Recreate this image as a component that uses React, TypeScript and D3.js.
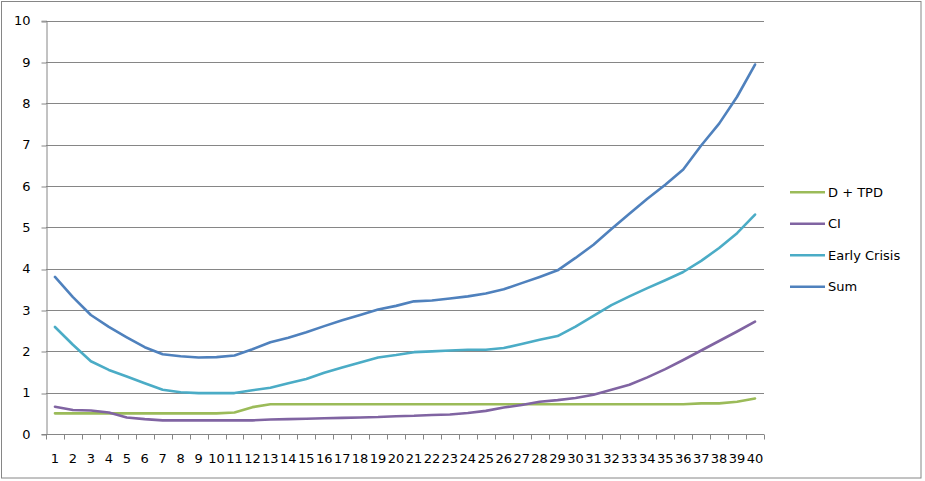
import React, { useEffect, useRef } from 'react';
import * as d3 from 'd3';

const categories = d3.range(1, 41).map(String);

const dTpd = [
  0.5, 0.5, 0.5, 0.5, 0.5, 0.5, 0.5, 0.5, 0.5, 0.5,
  0.52, 0.65, 0.72, 0.72, 0.72, 0.72, 0.72, 0.72, 0.72, 0.72,
  0.72, 0.72, 0.72, 0.72, 0.72, 0.72, 0.72, 0.72, 0.72, 0.72,
  0.72, 0.72, 0.72, 0.72, 0.72, 0.72, 0.74, 0.74, 0.78, 0.86,
];

const ci = [
  0.66, 0.58, 0.57, 0.52, 0.4, 0.36, 0.33, 0.33, 0.33, 0.33,
  0.33, 0.33, 0.35, 0.36, 0.37, 0.38, 0.39, 0.4, 0.41, 0.43,
  0.44, 0.46, 0.47, 0.51, 0.56, 0.64, 0.7, 0.78, 0.82, 0.87,
  0.95, 1.07, 1.19, 1.37, 1.57, 1.79, 2.02, 2.25, 2.48, 2.72,
];

const earlyCrisis = [
  2.59, 2.16, 1.76, 1.55, 1.39, 1.23, 1.07, 1.01, 0.99, 0.99,
  0.99, 1.06, 1.12, 1.23, 1.33, 1.48, 1.61, 1.73, 1.85, 1.91,
  1.98, 2.0, 2.02, 2.04, 2.04, 2.08, 2.18, 2.28, 2.37, 2.6,
  2.86, 3.12, 3.33, 3.53, 3.72, 3.92, 4.19, 4.5, 4.86, 5.31,
];

const sum = [
  3.8, 3.31, 2.88, 2.59, 2.34, 2.1, 1.93, 1.88, 1.85, 1.86,
  1.9, 2.05, 2.22, 2.33, 2.46, 2.61, 2.75, 2.88, 3.01, 3.1,
  3.21, 3.23, 3.28, 3.33, 3.4, 3.5, 3.65, 3.8, 3.96, 4.26,
  4.58, 4.96, 5.33, 5.69, 6.03, 6.4, 6.98, 7.51, 8.16, 8.94,
];

const seriesNames = ['D + TPD', 'CI', 'Early Crisis', 'Sum'];
const seriesValues = [dTpd, ci, earlyCrisis, sum];
const seriesColors = ['#9BBB59', '#8064A2', '#4BACC6', '#4F81BD'];
const yTicks = d3.range(0, 11);

const FONT = 'DejaVu Sans, sans-serif';

export default function App() {
  const svgRef = useRef<SVGSVGElement>(null);

  useEffect(() => {
    if (!svgRef.current) return;
    const svg = d3.select(svgRef.current);
    svg.selectAll('*').remove();

    const left = 46, right = 764, top = 20.7, bottom = 434;
    const grid = '#868686';

    // outer frame
    svg.append('rect')
      .attr('x', 1.5).attr('y', 1.5).attr('width', 919.5).attr('height', 476.5)
      .attr('fill', '#fff').attr('stroke', grid).attr('stroke-width', 1);

    const x = d3.scaleBand().domain(categories).range([left, right]);
    const y = d3.scaleLinear().domain([0, 10]).range([bottom, top]);

    // gridlines
    const g = svg.append('g');
    yTicks.forEach(t => {
      if (t === 0) return;
      g.append('line')
        .attr('x1', left).attr('x2', right)
        .attr('y1', Math.round(y(t)) + 0.5).attr('y2', Math.round(y(t)) + 0.5)
        .attr('stroke', grid).attr('stroke-width', 1);
    });

    // y axis
    const yAxis = svg.append('g')
      .attr('transform', `translate(${left + 0.5},0)`)
      .call(d3.axisLeft(y).tickValues(yTicks).tickSize(5).tickPadding(11));
    yAxis.select('.domain').attr('stroke', grid);
    yAxis.selectAll('.tick line').attr('stroke', grid)
      .attr('transform', (d: any) => `translate(0,${Math.round(y(d)) + 0.5 - y(d)})`);
    yAxis.selectAll('.tick text')
      .attr('font-family', FONT).attr('font-size', 13).attr('fill', '#000');

    // x axis
    const xAxisG = svg.append('g').attr('transform', `translate(0,${bottom + 0.5})`);
    xAxisG.append('line').attr('x1', left).attr('x2', right).attr('stroke', grid);
    d3.range(0, categories.length + 1).forEach(i => {
      const px = Math.round(left + i * x.step()) + 0.5;
      xAxisG.append('line').attr('x1', px).attr('x2', px).attr('y1', 0).attr('y2', 5).attr('stroke', grid);
    });
    categories.forEach(c => {
      xAxisG.append('text')
        .attr('x', (x(c) as number) + x.bandwidth() / 2)
        .attr('y', 28.5)
        .attr('text-anchor', 'middle')
        .attr('font-family', FONT).attr('font-size', 13).attr('fill', '#000')
        .text(c);
    });

    // series
    const line = d3.line<number>()
      .x((_, i) => (x(categories[i]) as number) + x.bandwidth() / 2)
      .y(d => y(d));
    seriesValues.forEach((vals, si) => {
      svg.append('path')
        .datum(vals)
        .attr('d', line)
        .attr('fill', 'none')
        .attr('stroke', seriesColors[si])
        .attr('stroke-width', 2.6)
        .attr('stroke-linejoin', 'round')
        .attr('stroke-linecap', 'round');
    });

    // legend
    const legendY = d3.scalePoint<string>().domain(seriesNames).range([192.3, 286.7]);
    seriesNames.forEach((name, si) => {
      const ly = legendY(name) as number;
      svg.append('line')
        .attr('x1', 790).attr('x2', 825).attr('y1', ly).attr('y2', ly)
        .attr('stroke', seriesColors[si]).attr('stroke-width', 2.6);
      svg.append('text')
        .attr('x', 828).attr('y', ly).attr('dy', '0.35em')
        .attr('font-family', FONT).attr('font-size', 13).attr('fill', '#000')
        .text(name);
    });
  }, []);

  return (
    <div style={{ position: 'fixed', left: 0, top: 0, width: 925, height: 481, background: '#fff' }}>
      <svg ref={svgRef} width={925} height={481} style={{ display: 'block' }} />
    </div>
  );
}
